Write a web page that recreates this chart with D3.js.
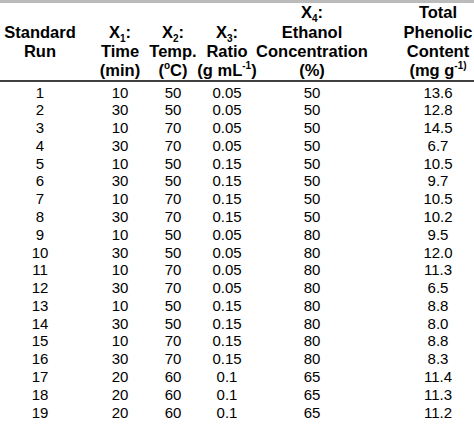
<!DOCTYPE html>
<html><head><meta charset="utf-8">
<script src="https://cdn.jsdelivr.net/npm/d3@7"></script>
<style>body{margin:0;background:#fff}text{font-family:"Liberation Sans",Arial,sans-serif}</style>
</head><body><svg width="474" height="432"></svg>
<script>
var runs = d3.range(1, 20);
var time = [10,30,10,30,10,30,10,30,10,30,10,30,10,30,10,30,20,20,20];
var temp = [50,50,70,70,50,50,70,70,50,50,70,70,50,50,70,70,60,60,60];
var ratio = ["0.05","0.05","0.05","0.05","0.15","0.15","0.15","0.15","0.05","0.05","0.05","0.05","0.15","0.15","0.15","0.15","0.1","0.1","0.1"];
var ethanol = [50,50,50,50,50,50,50,50,80,80,80,80,80,80,80,80,65,65,65];
var tpc = ["13.6","12.8","14.5","6.7","10.5","9.7","10.5","10.2","9.5","12.0","11.3","6.5","8.8","8.0","8.8","8.3","11.4","11.3","11.2"];
var columns = [runs, time, temp, ratio, ethanol, tpc];

var svg = d3.select("svg");
var x = d3.scaleOrdinal().domain(d3.range(6)).range([40, 120, 173, 227, 312, 438]);
var y = d3.scaleLinear().domain([0, 18]).range([92, 412]);

svg.append("rect").attr("x", 0).attr("y", 0).attr("width", 474).attr("height", 3).attr("fill", "#bbb");
svg.append("line").attr("x1", 0).attr("x2", 474).attr("y1", 81).attr("y2", 81).attr("stroke", "#000").attr("stroke-width", 1.5);

// header lines: [column, baseline, parts]; part = [text, baseline shift]
var head = [
  [0, 38, [["Standard", 0]]], [0, 57, [["Run", 0]]],
  [1, 38, [["X", 0], ["1", 4], [":", 0]]], [1, 57, [["Time", 0]]], [1, 76, [["(min)", 0]]],
  [2, 38, [["X", 0], ["2", 4], [":", 0]]], [2, 57, [["Temp.", 0]]], [2, 76, [["(", 0], ["o", -7], ["C)", 0]]],
  [3, 38, [["X", 0], ["3", 4], [":", 0]]], [3, 57, [["Ratio", 0]]], [3, 76, [["(g mL", 0], ["-1", -7], [")", 0]]],
  [4, 18, [["X", 0], ["4", 4], [":", 0]]], [4, 38, [["Ethanol", 0]]], [4, 57, [["Concentration", 0]]], [4, 76, [["(%)", 0]]],
  [5, 18, [["Total", 0]]], [5, 38, [["Phenolic", 0]]], [5, 57, [["Content", 0]]], [5, 76, [["(mg g", 0], ["-1)", -7]]]
];
head.forEach(function (h) {
  var t = svg.append("text").attr("x", x(h[0])).attr("y", h[1])
    .attr("text-anchor", "middle").attr("font-weight", "bold").attr("font-size", 16.5);
  var prev = 0;
  h[2].forEach(function (p) {
    var s = t.append("tspan").text(p[0]).attr("dy", p[1] - prev);
    if (p[1] !== 0) s.attr("font-size", 10);
    prev = p[1];
  });
});

columns.forEach(function (col, c) {
  svg.append("g").selectAll("text").data(col).enter().append("text")
    .attr("x", x(c)).attr("y", function (d, i) { return y(i) + 5.5; })
    .attr("text-anchor", "middle").attr("font-size", 15)
    .text(function (d) { return d; });
});
</script></body></html>
